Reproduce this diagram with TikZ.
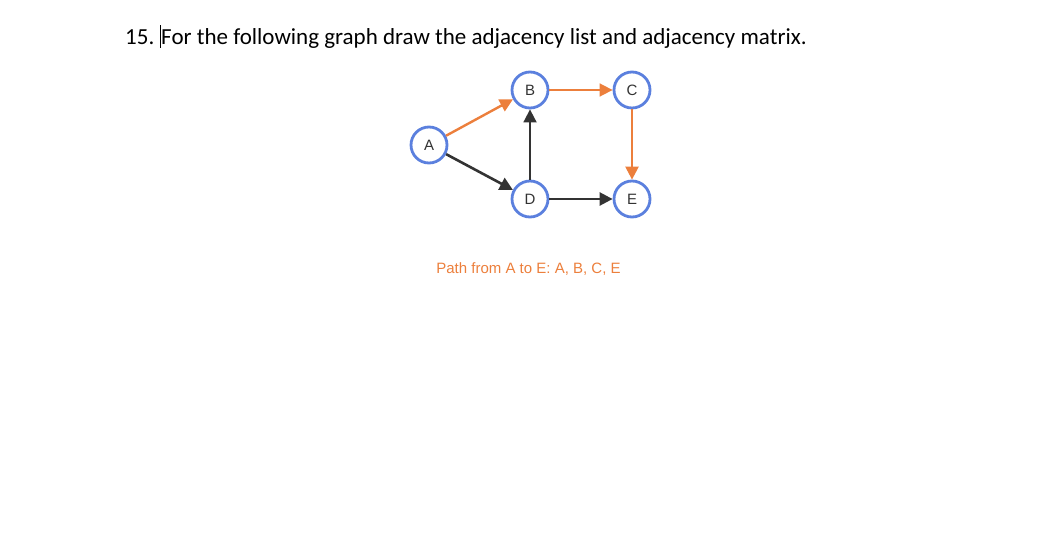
\documentclass[tikz,border=0pt]{standalone}
\usepackage{fontspec}
\setmainfont{Carlito}
\newfontfamily\arialfont{Liberation Sans}
\usetikzlibrary{arrows.meta}
\definecolor{nodeblue}{HTML}{5B80DE}
\definecolor{pathorange}{HTML}{EC7F3C}
\definecolor{edgedark}{HTML}{333333}
\begin{document}
\begin{tikzpicture}[x=1pt,y=-1pt,
  vertex/.style={circle,draw=nodeblue,line width=2.8pt,fill=white,minimum size=36pt,inner sep=0pt,font=\arialfont\fontsize{15}{15}\selectfont,text=edgedark},
  orangeedge/.style={draw=pathorange,line width=2.4pt,-{Triangle[length=13pt,width=13pt]}},
  darkedge/.style={draw=edgedark,line width=2.6pt,-{Triangle[length=13pt,width=13pt]}},
  thinorange/.style={draw=pathorange,line width=1.6pt,-{Triangle[length=13pt,width=13pt]}},
  thindark/.style={draw=edgedark,line width=1.8pt,-{Triangle[length=13pt,width=13pt]}}]
\useasboundingbox (0,0) rectangle (1051,557);
\node[anchor=base west,inner sep=0pt,font=\fontsize{23}{23}\selectfont] (title) at (125,44) {15. For the following graph draw the adjacency list and adjacency matrix.};
\coordinate (caretTop) at (160.5,25);
\coordinate (caretBot) at (160.5,48);
\draw[line width=0.8pt] (caretTop) -- (caretBot);
\node[vertex] (A) at (429,145) {A};
\node[vertex] (B) at (530,90) {B};
\node[vertex] (C) at (632,90) {C};
\node[vertex] (D) at (530,199) {D};
\node[vertex] (E) at (632,199) {E};
\draw[orangeedge] (A) -- (B);
\draw[thinorange] (B) -- (C);
\draw[orangeedge] (C) -- (E);
\draw[darkedge] (A) -- (D);
\draw[thindark] (D) -- (B);
\draw[darkedge] (D) -- (E);
\node[anchor=base,inner sep=0pt,text=pathorange,font=\arialfont\fontsize{15}{15}\selectfont] (cap) at (528.5,273) {Path from A to E: A, B, C, E};
\end{tikzpicture}
\end{document}
